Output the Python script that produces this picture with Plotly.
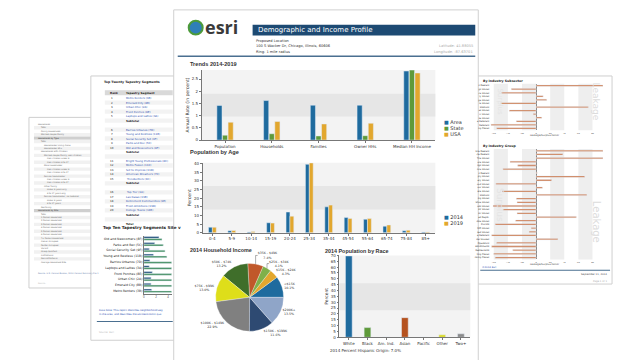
import plotly.graph_objects as go

W, H = 640, 360

# ---------------- DATA ----------------
trend_cats = ["Population", "Households", "Families", "Owner HHs", "Median HH Income"]
trend_area = [1.42, 1.62, 1.43, 1.43, 2.83]
trend_state = [0.20, 0.26, 0.17, 0.18, 2.87]
trend_usa = [0.73, 0.76, 0.66, 0.69, 2.75]

age_cats = ["0-4", "5-9", "10-14", "15-19", "20-24", "25-34", "35-44", "45-54",
            "55-64", "65-74", "75-84", "85+"]
age_2014 = [3.2, 1.2, 0.5, 5.8, 12.0, 39.6, 15.0, 8.8, 7.8, 3.8, 1.2, 0.4]
age_2019 = [3.2, 1.3, 0.8, 5.6, 9.6, 40.4, 16.0, 8.3, 8.2, 4.5, 1.5, 0.5]

inc_labels = ["<$15K", "$15K - $24K", "$25K - $34K", "$35K - $49K", "$50K - $74K",
              "$75K - $99K", "$100K - $149K", "$150K - $199K", "$200K+"]
inc_values = [10.1, 4.3, 4.1, 7.4, 13.2, 13.0, 22.9, 11.6, 13.5]

race_cats = ["White", "Black", "Am. Ind.", "Asian", "Pacific", "Other", "Two+"]
race_values = [69.6, 8.3, 0.3, 16.8, 0.1, 2.1, 3.0]

tap_rank = ["1", "2", "3", "4", "5", "", "", "6", "7", "8", "9", "10", "", "",
            "11", "12", "13", "14", "15", "", "", "16", "17", "18", "19", "20", "", "", ""]
tap_seg = ["Metro Renters (3B)", "Emerald City (8B)", "Urban Chic (2A)", "Front Porches (8E)",
           "Laptops and Lattes (3A)", "Subtotal", "",
           "Barrios Urbanos (7D)", "Young and Restless (11B)", "Social Security Set (9F)",
           "Parks and Rec (5C)", "Old and Newcomers (8F)", "Subtotal", "",
           "Bright Young Professionals (8C)", "Metro Fusion (11C)", "Set to Impress (11D)",
           "American Dreamers (7C)", "Trendsetters (3C)", "Subtotal", "",
           "Top Tier (1A)", "Las Casas (13B)", "Retirement Communities (9E)",
           "Fresh Ambitions (13D)", "College Towns (14B)", "Subtotal", "", "Total"]

top10_cats = ["Old and Newcomers (8F)", "Parks and Rec (5C)", "Social Security Set (9F)",
              "Young and Restless (11B)", "Barrios Urbanos (7D)", "Laptops and Lattes (3A)",
              "Front Porches (8E)", "Urban Chic (2A)", "Emerald City (8B)", "Metro Renters (3B)"]
top10_site = [2.5, 1.8, 0.9, 1.6, 1.0, 0.9, 1.4, 1.2, 1.2, 1.3]
top10_us = [3.0, 3.2, 3.5, 3.8, 4.6, 4.6, 4.6, 4.6, 4.6, 4.6]

left_rows = ["Households", "Total", "Family Households", "Married-couple Family",
             "Households by Type", "Total", "Householder Living Alone", "Householder 65+",
             "Households with Children", "Married-couple Family, own children",
             "Own children under 6", "Own children 6 to 17", "Male householder",
             "Own children under 6", "Own children 6 to 17", "Female householder",
             "Own children under 6", "Own children 6 to 17", "Other family",
             "Under 6 years only", "6 to 17 years only", "Female householder, no husband",
             "Under 6 years", "6 to 17 years", "Nonfamily",
             "Households by Size", "Total", "1 Person Household", "2 Person Household",
             "3 Person Household", "4 Person Household", "5 Person Household",
             "6 Person Household", "7+ Person Household", "Owner Occupied",
             "Renter Occupied", "Vacant", "Group Quarters", "Institutional",
             "Noninstitutional", "Average Household Size"]
left_indent = [0, 1, 1, 1, 0, 1, 2, 2, 1, 2, 3, 3, 2, 3, 3, 2, 3, 3, 2, 3, 3, 2, 3, 3, 1,
               0, 1, 1, 1, 1, 1, 1, 1, 1, 1, 1, 1, 1, 1, 1, 1]
left_headers = ["Households by Type", "Households by Size"]

sub_cats = ["s Dealers", "gs Stores", "ce Stores", "ly Stores", "ge Stores", "re Stores",
            "Stations", "es Stores", "ic Stores", "se Stores", "e Retailers", "Retailers",
            "ng Places"]
sub_vals = [95, -35, -49, 10, 15, -50, 74, -38, -4, 8, -28, -64, -56]

grp_cats = ["bile Dealers", "cle Dealers", "Tire Stores", "ure Stores", "ngs Stores",
            "nce Stores", "s Dealers", "ply Stores", "ery Stores", "ood Stores",
            "uor Stores", "are Stores", "Stations", "ing Stores", "Shoe Stores",
            "ods Stores", "str Stores", "sic Stores", "ed Depts.", "dise Stores",
            "Florists", "Gift Stores", "sed Stores", "e Retailers", "der Houses",
            "Operators", "ablishments", "Restaurants", "ting Places", "nking Places"]
grp_vals = [95, 38, 95, -37, -26, -47, 1.5, 69, 22, -57, 9, -48, 72, -28, -27,
            -61, -47, -27, 57, -29, -58, -7, -10, -63, 31, -56, -63, -33, -60, -58]

BLUE = "#1f6b9e"
GREEN = "#5f9a3a"
GOLD = "#e2a72e"
race_colors = [BLUE, GREEN, GOLD, "#b5521f", "#8cb84f", "#d9d91c", "#8a8a8a"]
inc_colors = [BLUE, GOLD, "#7fb04a", "#c0582a", "#3f6e2a", "#dede1a", "#808080",
              "#2e4a72", "#8fa5c8"]


def px(x):
    return x / W


def py(y):
    return 1 - y / H


fig = go.Figure()
TF = dict(family="DejaVu Sans", size=4, color="#333")

# ---------------- main charts ----------------
fig.add_trace(go.Bar(x=trend_cats, y=trend_area, marker_color=BLUE, width=0.11, offset=-0.175,
                     xaxis="x", yaxis="y", showlegend=False))
fig.add_trace(go.Bar(x=trend_cats, y=trend_state, marker_color=GREEN, width=0.11, offset=-0.055,
                     xaxis="x", yaxis="y", showlegend=False))
fig.add_trace(go.Bar(x=trend_cats, y=trend_usa, marker_color=GOLD, width=0.11, offset=0.065,
                     xaxis="x", yaxis="y", showlegend=False))

fig.add_trace(go.Bar(x=age_cats, y=age_2014, marker_color=BLUE, width=0.2, offset=-0.2,
                     xaxis="x2", yaxis="y2", showlegend=False))
fig.add_trace(go.Bar(x=age_cats, y=age_2019, marker_color=GOLD, width=0.2, offset=0.0,
                     xaxis="x2", yaxis="y2", showlegend=False))

fig.add_trace(go.Bar(x=race_cats, y=race_values, marker_color=race_colors, width=0.36,
                     xaxis="x3", yaxis="y3", showlegend=False))

# first slice starts at 3 o'clock and runs counterclockwise
pie_rotation = 90 - 360 * inc_values[0] / sum(inc_values)
fig.add_trace(go.Pie(labels=inc_labels, values=inc_values, sort=False,
                     direction="counterclockwise", rotation=pie_rotation,
                     marker=dict(colors=inc_colors, line=dict(color="white", width=0.3)),
                     texttemplate="%{label}<br>%{value:.1f}%", textposition="outside",
                     textfont=dict(family="DejaVu Sans", size=3.2, color="#333"),
                     domain=dict(x=[px(215), px(283)], y=[py(333), py(264)]),
                     showlegend=False))

# ---------------- tapestry page chart ----------------
fig.add_trace(go.Bar(y=top10_cats, x=top10_site, orientation="h", marker_color="#1f4e79",
                     width=0.3, offset=-0.35, xaxis="x4", yaxis="y4", showlegend=False))
fig.add_trace(go.Bar(y=top10_cats, x=top10_us, orientation="h", marker_color="#3b8a5a",
                     width=0.3, offset=-0.02, xaxis="x4", yaxis="y4", showlegend=False))

# ---------------- right page ----------------
fig.add_trace(go.Bar(y=sub_cats, x=sub_vals, orientation="h", marker_color="#c8642e", width=0.35,
                     xaxis="x5", yaxis="y5", showlegend=False))
fig.add_trace(go.Bar(y=grp_cats, x=grp_vals, orientation="h", marker_color="#c8642e", width=0.35,
                     xaxis="x6", yaxis="y6", showlegend=False))

# ---------------- shapes ----------------
shapes = []


def prect(x0, x1, y0, y1, fill, line=None):
    shapes.append(dict(type="rect", xref="paper", yref="paper", x0=px(x0), x1=px(x1),
                       y0=py(y1), y1=py(y0), fillcolor=fill,
                       line=line or dict(width=0), layer="below"))


page_line = dict(color="#cfcfcf", width=1)
# left page
prect(28, 101, 116, 289, "white", page_line)
lrow0, lstep = 123, 3.5
for i, r in enumerate(left_rows):
    yy = lrow0 + i * lstep
    if r in left_headers:
        prect(33, 100, yy - 1.7, yy + 1.7, "#cfcfcf")
    elif i % 2:
        prect(33, 100, yy - 1.7, yy + 1.7, "#f1f1f1")
# tapestry page
prect(90, 182, 74, 342, "white", page_line)
prect(104, 172, 88.5, 93.5, "#d9d9d9")
trow0, tstep = 96.5, 4.55
for i, s in enumerate(tap_seg):
    if i % 2:
        prect(104, 172, trow0 + i * tstep - 2.2, trow0 + i * tstep + 2.2, "#f3f3f3")
# right page
prect(470, 612, 74, 285, "white", page_line)
# main page
prect(173, 478, 7, 365, "white", dict(color="#d0d0d0", width=1))
# header bar + rule
prect(252, 475, 22, 33, "#1d4a73")
shapes.append(dict(type="line", xref="paper", yref="paper", x0=px(177), x1=px(475),
                   y0=py(54), y1=py(54), line=dict(color="#4a6f90", width=1.3), layer="below"))
# logo globe
shapes.append(dict(type="circle", xref="paper", yref="paper", x0=px(188), x1=px(202),
                   y0=py(32), y1=py(18), fillcolor="#2f7fb8", line=dict(color="#4c9a3a", width=2),
                   layer="below"))
# footer lines
shapes.append(dict(type="line", xref="paper", yref="paper", x0=px(96), x1=px(172),
                   y0=py(323), y1=py(323), line=dict(color="#4a6f90", width=1.2), layer="below"))
shapes.append(dict(type="line", xref="paper", yref="paper", x0=px(480), x1=px(610),
                   y0=py(271), y1=py(271), line=dict(color="#4a6f90", width=1.2), layer="below"))

# plot backgrounds and horizontal bands (axis refs)
for xa, ya, bands in [("x", "y", [(0.97, 1.9)]), ("x2", "y2", [(13.5, 27)]),
                      ("x3", "y3", [(23.2, 46.3)])]:
    shapes.append(dict(type="rect", xref=xa + " domain", yref=ya + " domain", x0=0, x1=1,
                       y0=0, y1=1, fillcolor="#f3f3f3", line=dict(width=0), layer="below"))
    for b0, b1 in bands:
        shapes.append(dict(type="rect", xref=xa + " domain", yref=ya, x0=0, x1=1,
                           y0=b0, y1=b1, fillcolor="#e6e6e6", line=dict(width=0), layer="below"))
# right page vertical bands
for xa, ya in [("x5", "y5"), ("x6", "y6")]:
    for v0 in [-60, -20, 20, 60]:
        shapes.append(dict(type="rect", xref=xa, yref=ya + " domain", x0=v0, x1=v0 + 20,
                           y0=0, y1=1, fillcolor="#eeeeee", line=dict(width=0), layer="below"))

fig.update_layout(shapes=shapes)

# ---------------- annotations ----------------
ann = []


def text(x, y, s, size=4, color="#333", bold=False, xanchor="left", angle=0, family="DejaVu Sans"):
    ann.append(dict(x=px(x), y=py(y), xref="paper", yref="paper",
                    text=("<b>%s</b>" % s) if bold else s,
                    showarrow=False, xanchor=xanchor, yanchor="middle", textangle=angle,
                    borderpad=0, font=dict(family=family, size=size, color=color)))


TITLE_FAM = "Liberation Sans"
text(203, 24.5, "esri", size=18, color="#3a3a3a", bold=True, family="Open Sans")
text(256, 27.5, "Demographic and Income Profile", size=7, color="white")
text(254, 38.5, "Proposed Location", size=3.6, color="#333")
text(254, 44, "100 S Wacker Dr, Chicago, Illinois, 60606", size=3.6, color="#333")
text(254, 49.5, "Ring: 1 mile radius", size=3.6, color="#333")
text(474, 44, "Latitude: 41.88055", size=3.6, color="#aaa", xanchor="right")
text(474, 49.5, "Longitude: -87.63701", size=3.6, color="#aaa", xanchor="right")

text(188, 62, "Trends 2014-2019", size=5.6, color="#333", bold=True, family=TITLE_FAM)
text(188, 151, "Population by Age", size=5.6, color="#333", bold=True, family=TITLE_FAM)
text(188, 250, "2014 Household Income", size=5.4, color="#333", bold=True, family=TITLE_FAM)
text(324, 251, "2014 Population by Race", size=5.4, color="#333", bold=True, family=TITLE_FAM)
text(329, 352, "2014 Percent Hispanic Origin: 7.0%", size=4, color="#333")

legend_rows = [(121, BLUE, "Area"), (127, GREEN, "State"), (133, GOLD, "USA"),
               (217, BLUE, "2014"), (223, GOLD, "2019")]
for yy, col, lab in legend_rows:
    text(443, yy, '<span style="color:%s">■</span> %s' % (col, lab), size=5, color="#333")

# left page texts
for i, r in enumerate(left_rows):
    text(36 + 3 * left_indent[i], lrow0 + i * lstep, r, size=2.1,
         color="#333" if r in left_headers else "#666")
text(36, 274, "Source: U.S. Census Bureau, 2010 Census Summary File 1", size=2.1, color="#6a7fb0")
text(36, 284, "Source:", size=2.1, color="#bbb")

# tapestry page texts
text(131, 80, "Top Twenty Tapestry Segments", size=3.2, color="#222", bold=True, xanchor="center")
text(108, 91, "Rank", size=2.8, color="#222", bold=True)
text(124, 91, "Tapestry Segment", size=2.8, color="#222", bold=True)
for i, s in enumerate(tap_seg):
    yy = trow0 + i * tstep
    if tap_rank[i]:
        text(111, yy, tap_rank[i], size=2.7, color="#222", xanchor="center")
    if s:
        plain = s in ("Subtotal", "Total")
        text(124, yy, s, size=2.7, color="#222" if plain else "#2b4fb0", bold=plain)
text(101, 228, "Top Ten Tapestry Segments Site v", size=4.1, color="#222", bold=True)
text(97, 312, "Data Note: This report identifies neighborhood seg", size=2.5, color="#2b4fb0")
text(97, 316, "in the area, and describes the socioeconomic qua", size=2.5, color="#2b4fb0")
text(97, 334, "Source: Esri", size=2.5, color="#bbb")

# right page texts
text(482, 79, "By Industry Subsector", size=3.2, color="#222", bold=True)
text(482, 145, "By Industry Group", size=3.2, color="#222", bold=True)
text(596, 100, "Leakage", size=9, color="#dcdcdc", angle=90, xanchor="center")
text(500, 100, "Surplus", size=7, color="#e4e4e4", angle=90, xanchor="center")
text(596, 222, "Leakage", size=10, color="#dcdcdc", angle=90, xanchor="center")
text(500, 205, "Surplus", size=9, color="#e4e4e4", angle=90, xanchor="center")
text(545, 134, "Leakage/Surplus Factor", size=2.5, color="#444", xanchor="center")
text(545, 265, "Leakage/Surplus Factor", size=2.5, color="#444", xanchor="center")
text(608, 275, "September 11, 2014", size=2.5, color="#444", xanchor="right")
text(608, 282, "Page 1 of 1", size=2.5, color="#aaa", xanchor="right")
text(481, 268, "©2014 Esri", size=2.5, color="#2b4fb0")

fig.update_layout(annotations=ann)

# ---------------- axes ----------------
axis_common = dict(showgrid=False, zeroline=False, tickfont=TF, showline=True,
                   linecolor="#777", linewidth=0.6, ticks="outside", ticklen=2,
                   tickcolor="#777", tickwidth=0.6)
title_font = dict(family="DejaVu Sans", size=4.5, color="#333")
fig.update_layout(
    width=W, height=H, margin=dict(l=0, r=0, t=0, b=0),
    paper_bgcolor="white", plot_bgcolor="rgba(0,0,0,0)", barmode="overlay",
    xaxis=dict(domain=[px(201), px(435)], anchor="y", **axis_common),
    yaxis=dict(domain=[py(139), py(68)], anchor="x", range=[0, 2.87],
               tickvals=[0, 0.5, 1, 1.5, 2, 2.5], ticktext=["0", "0.5", "1", "1.5", "2", "2.5"],
               title=dict(text="Annual Rate (in percent)", font=title_font, standoff=2),
               **axis_common),
    xaxis2=dict(domain=[px(202), px(435)], anchor="y2", **axis_common),
    yaxis2=dict(domain=[py(233), py(162)], anchor="x2", range=[0, 40.5], dtick=5,
                title=dict(text="Percent", font=title_font, standoff=2), **axis_common),
    xaxis3=dict(domain=[px(339), px(470)], anchor="y3", **axis_common),
    yaxis3=dict(domain=[py(339), py(256)], anchor="x3", range=[0, 70], dtick=5,
                title=dict(text="Percent", font=title_font, standoff=2), **axis_common),
    xaxis4=dict(domain=[px(143), px(171)], anchor="y4", range=[0, 4.6], tickvals=[0, 2, 4],
                showgrid=False, zeroline=False, tickfont=dict(size=2.8, color="#333"),
                showline=True, linecolor="#777", linewidth=0.5),
    yaxis4=dict(domain=[py(295), py(236)], anchor="x4", autorange="reversed",
                showgrid=False, zeroline=False,
                tickfont=dict(family="DejaVu Sans", size=3.1, color="#222"),
                ticklen=0, showline=True, linecolor="#777", linewidth=0.5),
    xaxis5=dict(domain=[px(490), px(603)], anchor="y5", range=[-65, 95], dtick=20,
                showgrid=False, zeroline=True, zerolinecolor="#888", zerolinewidth=0.5,
                tickfont=dict(size=2.3, color="#444")),
    yaxis5=dict(domain=[py(129), py(82)], anchor="x5", autorange="reversed",
                showgrid=False, zeroline=False,
                tickfont=dict(family="DejaVu Sans", size=2.3, color="#333")),
    xaxis6=dict(domain=[px(490), px(603)], anchor="y6", range=[-65, 95], dtick=20,
                showgrid=False, zeroline=True, zerolinecolor="#888", zerolinewidth=0.5,
                tickfont=dict(size=2.3, color="#444")),
    yaxis6=dict(domain=[py(260), py(148)], anchor="x6", autorange="reversed",
                showgrid=False, zeroline=False,
                tickfont=dict(family="DejaVu Sans", size=2.3, color="#333")),
)

fig.write_html("out.html", config={"displayModeBar": False},
               post_script="document.body.style.margin='0px';")
